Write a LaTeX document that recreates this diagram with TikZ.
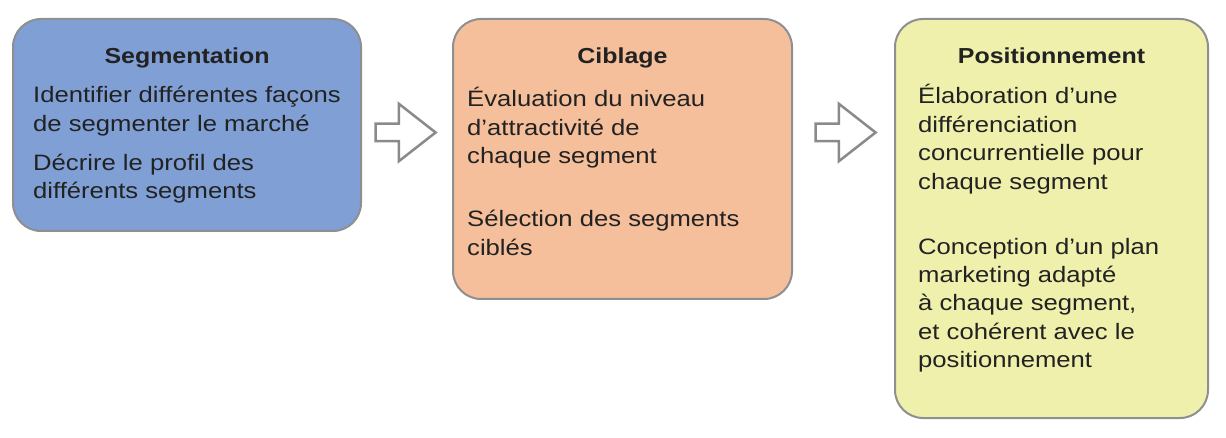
\documentclass[tikz,border=0pt]{standalone}
\usepackage{fontspec}
\setmainfont{Liberation Sans}[FakeStretch=1.15]
\usepackage{xcolor}
\usepackage{tikz}
\usetikzlibrary{positioning, shapes.arrows}
\definecolor{segbleu}{HTML}{7F9FD5}
\definecolor{cibrose}{HTML}{F5BF9B}
\definecolor{posjaune}{HTML}{EFF0AC}
\definecolor{bordgris}{HTML}{8F8F8F}
\definecolor{flechegris}{HTML}{8A8A8A}
\definecolor{texte}{HTML}{222222}
\newcommand{\lignes}[1]{\begin{tabular}[t]{@{}l@{}}#1\end{tabular}}
\begin{document}
\begin{tikzpicture}[x=1pt, y=-1pt,
            boite/.style={draw=bordgris, line width=2pt, rounded corners=28pt, anchor=north west, inner sep=0pt},
            titre/.style={font=\fontsize{21.7}{26}\selectfont\bfseries, text=texte, inner sep=0pt},
            corps/.style={font=\fontsize{22.3}{28.4}\selectfont, text=texte, inner sep=0pt},
            fleche/.style={draw=flechegris, fill=white, line width=2.5pt, single arrow, minimum height=60pt, minimum width=0pt, inner xsep=0pt, inner ysep=7.5pt, single arrow head extend=20pt, single arrow tip angle=76}]
            \useasboundingbox (0,0) rectangle (1226,438);
            \draw (12,18) node[boite, fill=segbleu, minimum width=348pt, minimum height=212pt]               (seg) {};
            \node[boite, fill=cibrose, minimum width=339pt, minimum height=280pt, right=90pt of seg.north east, anchor=north west]       (cib) {};
            \node[boite, fill=posjaune, minimum width=313pt, minimum height=399pt, right=101pt of cib.north east, anchor=north west]      (pos) {};
            \node[titre, below=45.5pt of seg.north, anchor=base]            (segT) {Segmentation};
            \node[titre, below=45.5pt of cib.north, anchor=base]            (cibT) {Ciblage};
            \node[titre, below=45.5pt of pos.north, anchor=base]            (posT) {Positionnement};
            \node[corps, below right=84.7pt and 21pt of seg.north west, anchor=base west]      (segB) {\lignes{Identifier différentes façons\\de segmenter le marché\\[10.6pt]Décrire le profil des\\différents segments}};
            \node[corps, below right=88.7pt and 15pt of cib.north west, anchor=base west]      (cibB) {\lignes{Évaluation du niveau\\d’attractivité de\\chaque segment\\[35pt]Sélection des segments\\ciblés}};
            \node[corps, below right=86pt and 24pt of pos.north west, anchor=base west]        (posB) {\lignes{Élaboration d’une\\différenciation\\concurrentielle pour\\chaque segment\\[36.6pt]Conception d’un plan\\marketing adapté\\à chaque segment,\\et cohérent avec le\\positionnement}};
            \draw (400,132.5) node[fleche]                  (f1) {};
            \draw (840,132.5) node[fleche]                  (f2) {};
            \end{tikzpicture}
\end{document}
